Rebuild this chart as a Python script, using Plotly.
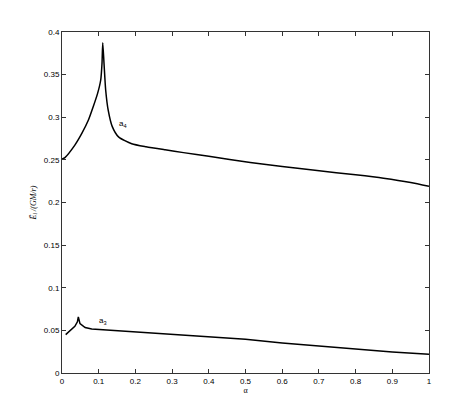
import plotly.graph_objects as go

# a4 curve
alpha_a4 = [0.0, 0.008, 0.035, 0.054, 0.072, 0.085, 0.097, 0.1055, 0.109, 0.111,
            0.1145, 0.119, 0.126, 0.137, 0.154, 0.19, 0.229, 0.281, 0.331, 0.4,
            0.513, 0.6, 0.695, 0.8, 0.876, 0.95, 1.0]
val_a4 = [0.251, 0.2527, 0.2673, 0.281, 0.2967, 0.3123, 0.328, 0.3437, 0.363, 0.3875,
          0.363, 0.332, 0.308, 0.289, 0.277, 0.269, 0.2654, 0.2618, 0.2585, 0.2542,
          0.247, 0.2422, 0.2375, 0.2325, 0.2285, 0.2235, 0.219]

# a3 curve
alpha_a3 = [0.01, 0.022, 0.035, 0.042, 0.0445, 0.049, 0.063, 0.081, 0.163, 0.281,
            0.4, 0.5, 0.6, 0.7, 0.8, 0.9, 1.0]
val_a3 = [0.045, 0.050, 0.0548, 0.060, 0.0658, 0.058, 0.0533, 0.0517, 0.0493, 0.0463,
          0.0425, 0.0396, 0.0352, 0.0317, 0.028, 0.0247, 0.022]

x_ticks = [0, 0.1, 0.2, 0.3, 0.4, 0.5, 0.6, 0.7, 0.8, 0.9, 1]
x_tick_text = ["0", "0.1", "0.2", "0.3", "0.4", "0.5", "0.6", "0.7", "0.8", "0.9", "1"]
y_ticks = [0, 0.05, 0.1, 0.15, 0.2, 0.25, 0.3, 0.35, 0.4]
y_tick_text = ["0", "0.05", "0.1", "0.15", "0.2", "0.25", "0.3", "0.35", "0.4"]

fig = go.Figure()
fig.add_trace(go.Scatter(x=alpha_a4, y=val_a4, mode="lines",
                         line=dict(color="black", width=1.5, shape="spline",
                                   smoothing=0.6),
                         hoverinfo="skip", showlegend=False))
fig.add_trace(go.Scatter(x=alpha_a3, y=val_a3, mode="lines",
                         line=dict(color="black", width=1.5),
                         hoverinfo="skip", showlegend=False))

fig.add_annotation(x=0.166, y=0.292, text="a<sub>4</sub>", showarrow=False,
                   font=dict(size=8, color="black", family="Liberation Sans"))
fig.add_annotation(x=0.113, y=0.0605, text="a<sub>3</sub>", showarrow=False,
                   font=dict(size=8, color="black", family="Liberation Sans"))

axis_common = dict(showgrid=False, zeroline=False, showline=True, linecolor="#333",
                   linewidth=1, mirror="ticks", ticks="inside", ticklen=4,
                   tickcolor="#333", tickfont=dict(size=8, color="black",
                                                   family="Liberation Sans"))

fig.update_layout(
    width=474, height=419,
    margin=dict(l=54, r=53, t=24, b=54),
    paper_bgcolor="white", plot_bgcolor="white",
    xaxis=dict(range=[0, 1], tickvals=x_ticks, ticktext=x_tick_text,
               title=dict(text="α", font=dict(size=8, color="black",
                                             family="Liberation Serif"),
                          standoff=2), **axis_common),
    yaxis=dict(range=[0, 0.4], tickvals=y_ticks, ticktext=y_tick_text,
               title=dict(text="<i>Ē<sub>i</sub> /(GM/r)</i>",
                          font=dict(size=8, color="black",
                                    family="Liberation Serif"),
                          standoff=6), **axis_common),
)

fig.write_html("out.html")
